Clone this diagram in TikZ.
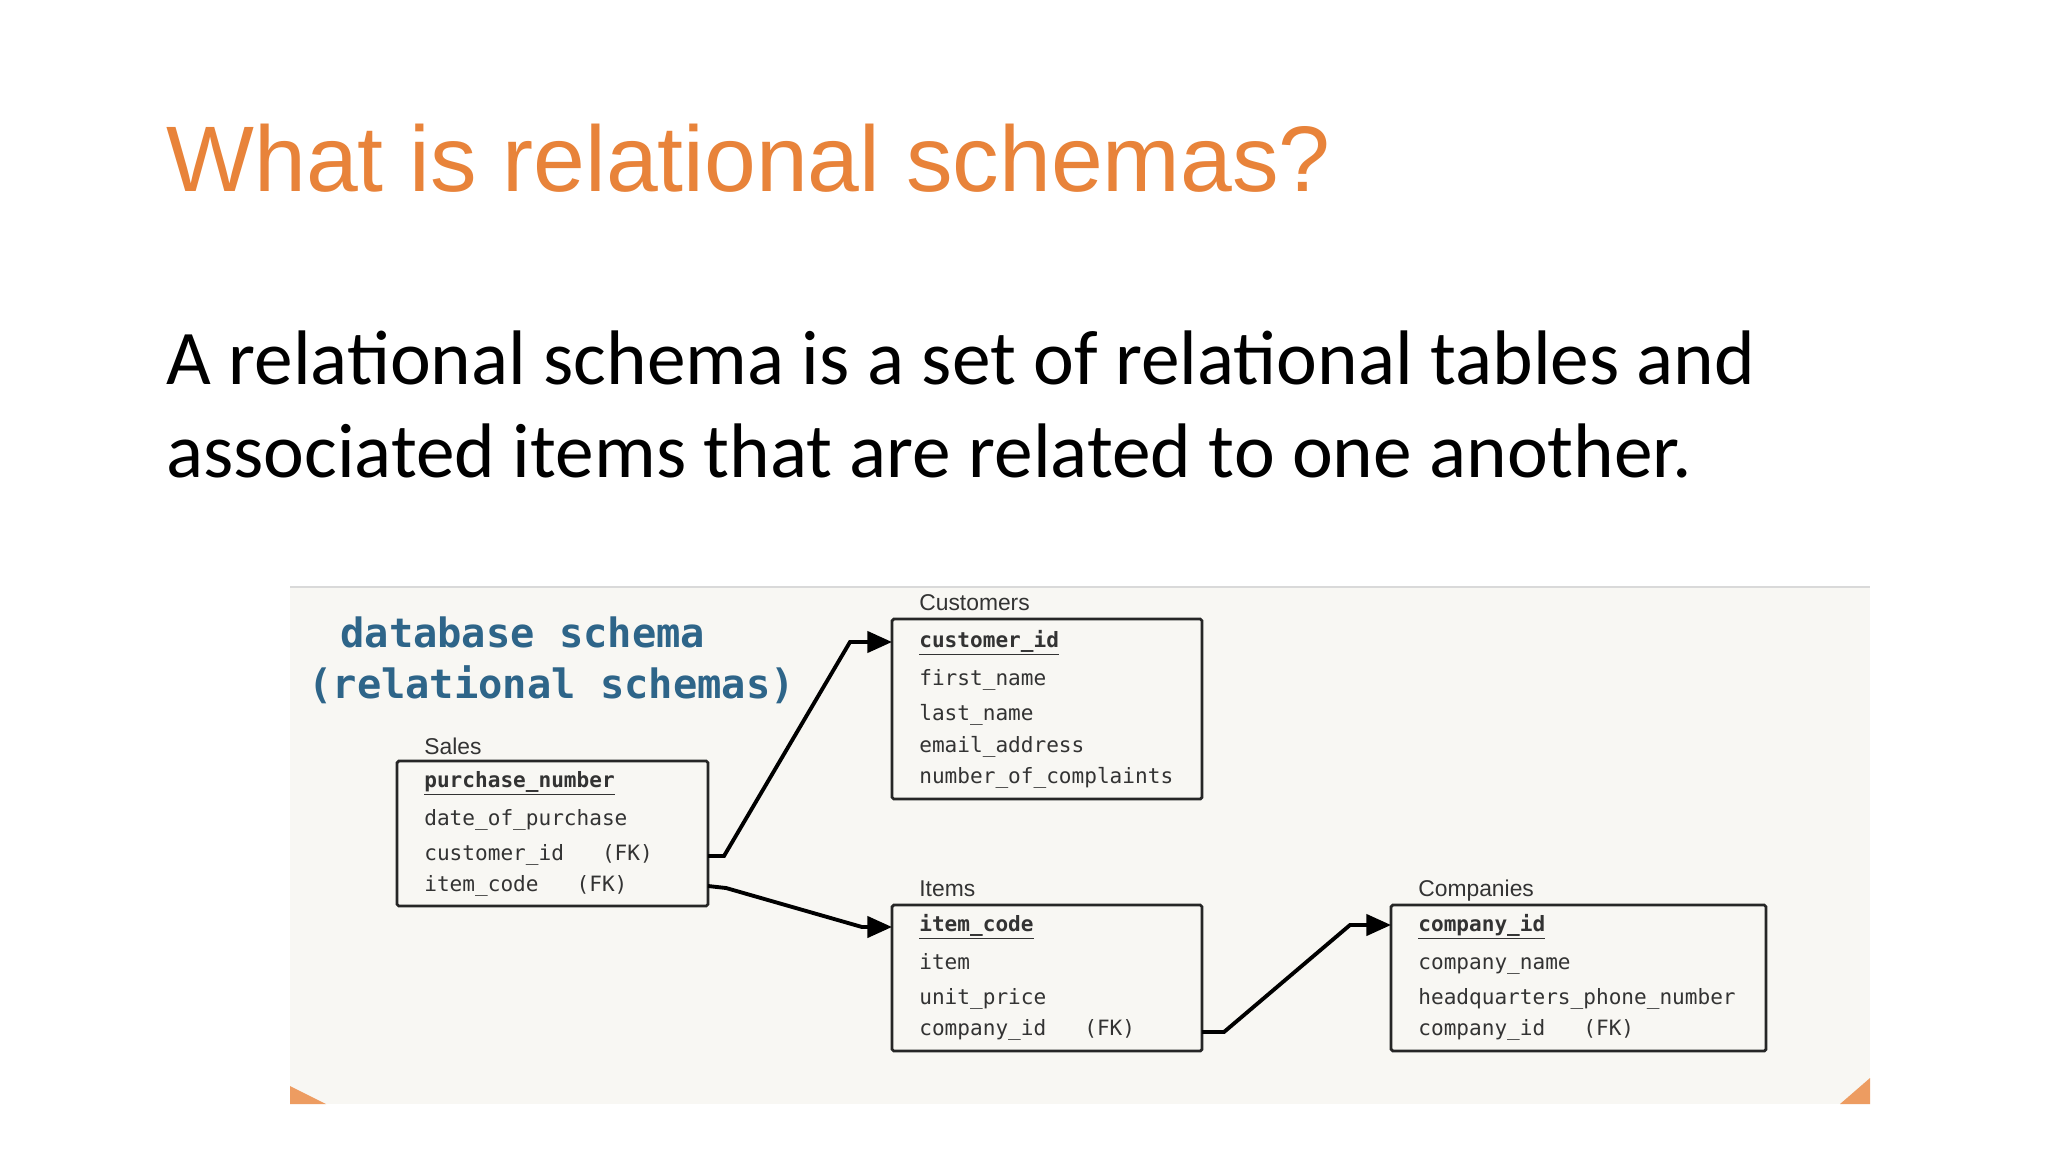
\documentclass[tikz,border=0pt]{standalone}
\usepackage{fontspec}
\setmainfont{Carlito}
\newfontfamily\titlefont{Liberation Sans}
\newfontfamily\monofont{DejaVu Sans Mono}
\newfontfamily\lblfont{Liberation Sans}
\usetikzlibrary{arrows.meta}
\definecolor{ttl}{HTML}{E8833A}
\definecolor{dbblue}{HTML}{2E6589}
\definecolor{panel}{HTML}{F8F7F3}
\definecolor{txt}{HTML}{333333}
\tikzset{
  tbl/.style={draw=black!85, line width=1.6pt, rounded corners=1pt},
  row/.style={anchor=base west, font=\monofont\fontsize{12}{12}\selectfont, text=txt, inner sep=0pt},
  key/.style={row, font=\monofont\bfseries\fontsize{12}{12}\selectfont},
  lbl/.style={anchor=base west, font=\lblfont\fontsize{13}{13}\selectfont, text=txt, inner sep=0pt},
  link/.style={line width=2.2pt, black, -{Triangle[length=14pt,width=12pt]}},
}
\newcommand{\ukey}[1]{\underline{#1}}
\begin{document}
\begin{tikzpicture}[x=0.02cm,y=-0.02cm]
\useasboundingbox (0,0) rectangle (2048,1152);
\fill[white] (0,0) rectangle (2048,1152);
\node[anchor=base west, inner sep=0pt, text=ttl, font=\titlefont\fontsize{53}{53}\selectfont] (title) at (166,192) {What is relational schemas?};
\node[anchor=base west, inner sep=0pt, font=\fontsize{44}{44}\selectfont] (b1) at (166,384) {A relational schema is a set of relational tables and};
\node[anchor=base west, inner sep=0pt, font=\fontsize{44}{44}\selectfont] (b2) at (166,477) {associated items that are related to one another.};
% panel
\fill[panel] (290,586) rectangle (1870,1104);
\draw[black!15, line width=0.8pt] (290,587) -- (1870,587);
\fill[ttl!80] (290,1104) -- (290,1086) -- (326,1104) -- cycle;
\fill[ttl!80] (1870,1104) -- (1870,1078) -- (1840,1104) -- cycle;
\node[anchor=base west, inner sep=0pt, text=dbblue, font=\monofont\bfseries\fontsize{23}{23}\selectfont] (d1) at (340,647) {database schema};
\node[anchor=base west, inner sep=0pt, text=dbblue, font=\monofont\bfseries\fontsize{23}{23}\selectfont] (d2) at (308,698) {(relational schemas)};
% Sales
\node[lbl] (lsales) at (424,754) {Sales};
\draw[tbl] (397,761) rectangle (708,906);
\node[key] (s1) at (424,787) {\ukey{purchase\_number}};
\node[row] (s2) at (424,825) {date\_of\_purchase};
\node[row] (s3) at (424,860) {customer\_id\ \ \ (FK)};
\node[row] (s4) at (424,891) {item\_code\ \ \ (FK)};
% Customers
\node[lbl] (lcust) at (919,610) {Customers};
\draw[tbl] (892,619) rectangle (1202,799);
\node[key] (c1) at (919,647) {\ukey{customer\_id}};
\node[row] (c2) at (919,685) {first\_name};
\node[row] (c3) at (919,720) {last\_name};
\node[row] (c4) at (919,752) {email\_address};
\node[row] (c5) at (919,783) {number\_of\_complaints};
% Items
\node[lbl] (litems) at (919,896) {Items};
\draw[tbl] (892,905) rectangle (1202,1051);
\node[key] (i1) at (919,931) {\ukey{item\_code}};
\node[row] (i2) at (919,969) {item};
\node[row] (i3) at (919,1004) {unit\_price};
\node[row] (i4) at (919,1035) {company\_id\ \ \ (FK)};
% Companies
\node[lbl] (lcomp) at (1418,896) {Companies};
\draw[tbl] (1391,905) rectangle (1766,1051);
\node[key] (k1) at (1418,931) {\ukey{company\_id}};
\node[row] (k2) at (1418,969) {company\_name};
\node[row] (k3) at (1418,1004) {headquarters\_phone\_number};
\node[row] (k4) at (1418,1035) {company\_id\ \ \ (FK)};
% connectors
\coordinate (a0) at (708,856); \coordinate (a1) at (724,856); \coordinate (a2) at (850,642); \coordinate (a3) at (892,642);
\draw[link] (a0) -- (a1) -- (a2) -- (a3);
\coordinate (b0) at (708,886); \coordinate (b1) at (726,888); \coordinate (b2) at (862,927); \coordinate (b3) at (892,927);
\draw[link] (b0) -- (b1) -- (b2) -- (b3);
\coordinate (e0) at (1202,1032); \coordinate (e1) at (1224,1032); \coordinate (e2) at (1350,925); \coordinate (e3) at (1391,925);
\draw[link] (e0) -- (e1) -- (e2) -- (e3);
\end{tikzpicture}
\end{document}
